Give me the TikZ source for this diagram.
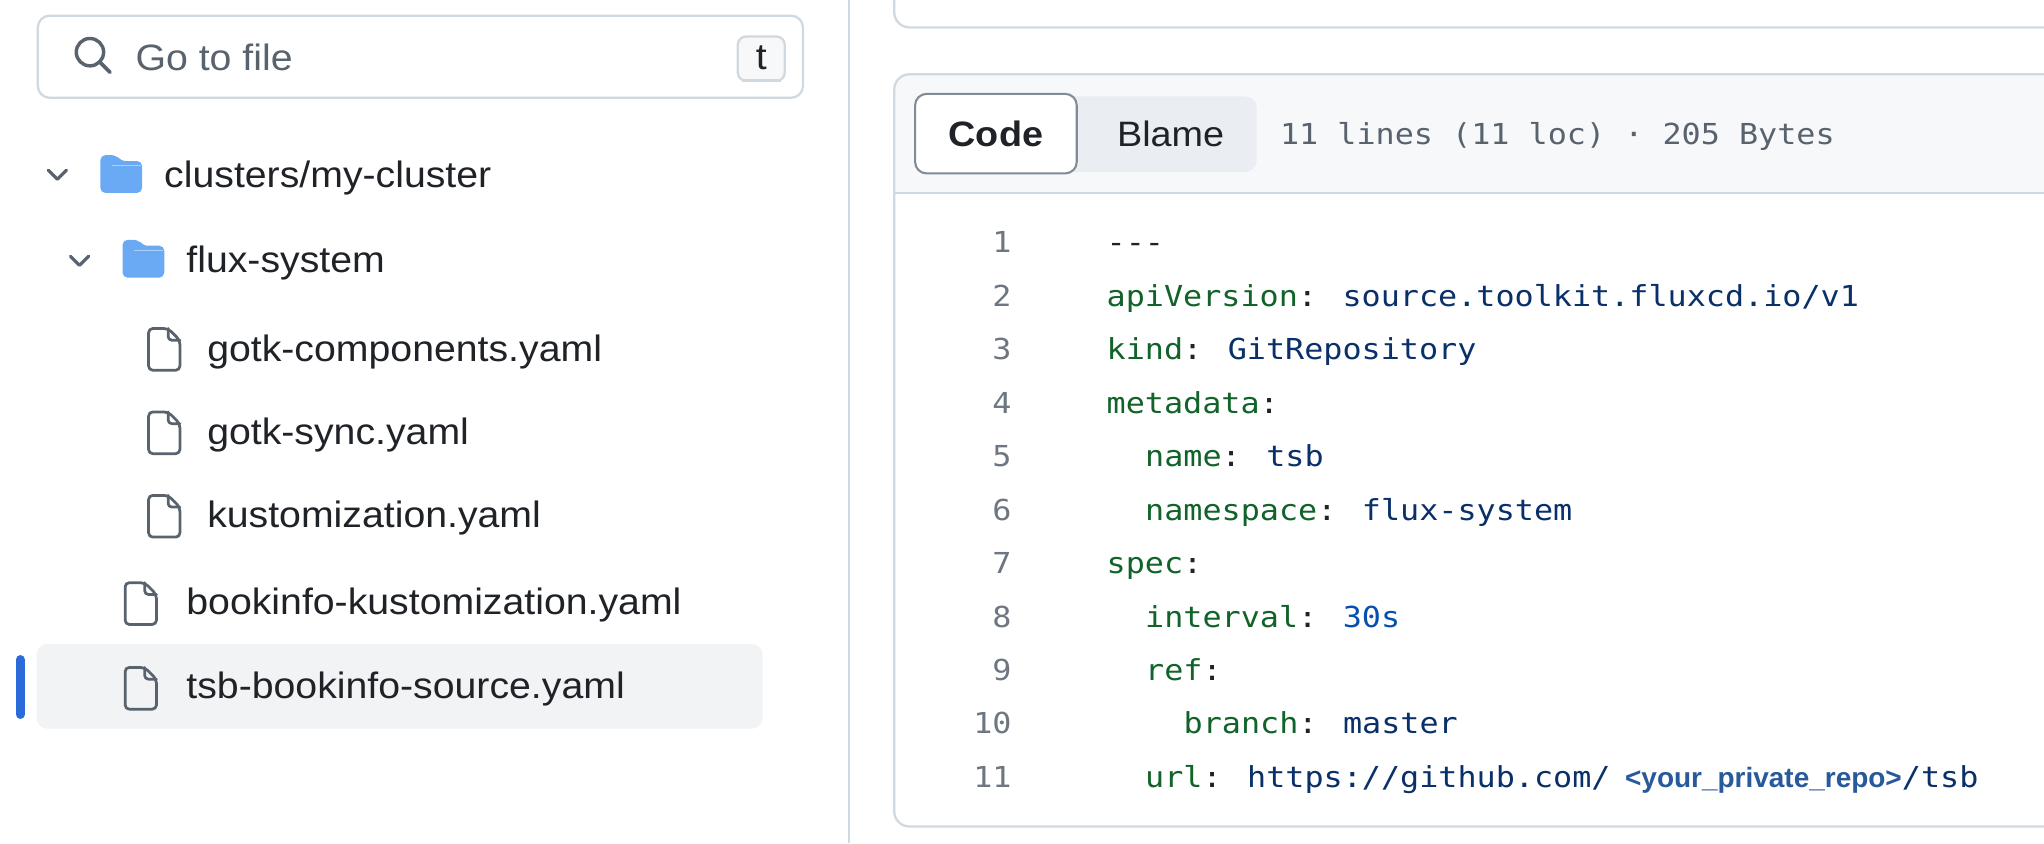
\documentclass[tikz,border=0pt]{standalone}
\usepackage{fontspec}
\setmainfont{Liberation Sans}
\newfontfamily\uifont{Liberation Sans}[FakeStretch=1.07]
\newfontfamily\codefont{DejaVu Sans Mono}[FakeStretch=1.1]
\definecolor{ink}{HTML}{1F2328}
\definecolor{muted}{HTML}{59636E}
\definecolor{lnumc}{HTML}{6E7781}
\definecolor{keyc}{HTML}{116329}
\definecolor{valc}{HTML}{0A3069}
\definecolor{numc}{HTML}{0550AE}
\definecolor{repoc}{HTML}{28599B}
\definecolor{borderc}{HTML}{D1D9E0}
\definecolor{hdrbg}{HTML}{F6F8FA}
\definecolor{blamebg}{HTML}{EAEEF2}
\definecolor{rowbg}{HTML}{F2F3F5}
\definecolor{indic}{HTML}{2A6BD9}
\definecolor{folderc}{HTML}{6AAAF5}
\definecolor{btnborder}{HTML}{818B98}
\newcommand\treefont{\uifont\fontsize{8}{9.6}\selectfont}
\newcommand\btnfont{\uifont\fontsize{7.7}{9}\selectfont}
\newcommand\monofont{\codefont\fontsize{6.3}{7.5}\selectfont}
\newcommand\repofont{\rmfamily\bfseries\fontsize{6.1}{7.5}\selectfont}
\newcommand\K[1]{\textcolor{keyc}{#1}\textcolor{ink}{:}}
\newcommand\V[1]{\textcolor{valc}{#1}}
\begin{document}
\begin{tikzpicture}[x=0.01cm,y=-0.01cm,
  lbl/.style={anchor=base west, inner sep=0pt, outer sep=0pt, text=ink, font=\treefont},
  codeln/.style={anchor=base west, inner sep=0pt, outer sep=0pt, text=ink, font=\monofont},
  lnum/.style={anchor=base east, inner sep=0pt, outer sep=0pt, text=lnumc, font=\monofont},
  iconline/.style={draw=muted, line width=0.6pt, line join=round, line cap=round},
  border/.style={draw=borderc, line width=0.5pt},
  chev/.pic={\draw[iconline, line width=0.7pt] (-7,-3.5) -- (0,3.5) -- (7,-3.5);},
  folder/.pic={
    \fill[folderc, rounded corners=1.1pt] (0,0) -- (12.5,0) -- (15.5,4.5) -- (32,4.5) -- (32,29) -- (0,29) -- cycle;
    \draw[white, opacity=0.45, line width=0.35pt] (9,8) -- (31,8);
  },
  filepic/.pic={
    \draw[iconline, rounded corners=0.9pt] (15,0) -- (0,0) -- (0,32) -- (24,32) -- (24,9) -- cycle;
    \draw[iconline, rounded corners=0.8pt] (15,0) -- (15,9) -- (24,9);
  }
]
\useasboundingbox (0,0) rectangle (1568,647);
\clip (0,0) rectangle (1568,647);
\fill[white] (0,0) rectangle (1568,647);

% ---------- left panel ----------
\draw[border, fill=white, rounded corners=2.6pt] (29,12) rectangle (616,75);
\draw[iconline, line width=0.75pt] (69,40) circle (10.5);
\draw[iconline, line width=0.8pt] (76.5,47.5) -- (84.5,55.5);
\node[lbl, text=muted] (search) at (104,54) {Go to file};
\draw[border, fill=hdrbg, rounded corners=1.8pt] (566,28) rectangle (602,62);
\draw[draw=borderc, line width=0.7pt] (569,61.5) -- (599,61.5);
\node[anchor=base, inner sep=0pt, text=ink, font=\treefont] (tkey) at (584,53) {t};

\pic at (44,134) {chev};
\pic at (77,119) {folder};
\node[lbl] (clusters) at (126,144) {clusters/my-cluster};

\pic at (61,200) {chev};
\pic at (94,184) {folder};
\node[lbl] (fluxsys) at (143,209) {flux-system};

\pic at (114,252) {filepic};
\node[lbl] (gotkc) at (159,277) {gotk-components.yaml};
\pic at (114,316) {filepic};
\node[lbl] (gotks) at (159,341) {gotk-sync.yaml};
\pic at (114,380) {filepic};
\node[lbl] (kust) at (159,405) {kustomization.yaml};
\pic at (96,447) {filepic};
\node[lbl] (bookk) at (143,471) {bookinfo-kustomization.yaml};

\fill[rowbg, rounded corners=2.4pt] (28,494) rectangle (585,559);
\draw[indic, line width=2pt, line cap=round] (15.5,506) -- (15.5,548);
\pic at (96,512) {filepic};
\node[lbl] (tsbsrc) at (143,536) {tsb-bookinfo-source.yaml};

% divider
\draw[draw=borderc, line width=0.45pt] (651,0) -- (651,647);

% ---------- right panel ----------
\draw[border, rounded corners=3.3pt] (686,-20) -- (686,21) -- (1620,21);

\fill[hdrbg, rounded corners=3.3pt] (686,57) rectangle (1620,148);
\fill[hdrbg] (686,110) rectangle (1620,148);
\draw[border, rounded corners=3.3pt] (1620,57) -- (686,57) -- (686,634) -- (1620,634);
\draw[border] (686,148) -- (1620,148);

\fill[blamebg, rounded corners=2.5pt] (702,74) rectangle (964,132);
\draw[draw=btnborder, fill=white, line width=0.45pt, rounded corners=2.5pt] (702,72) rectangle (826,133);
\node[anchor=base, inner sep=0pt, text=ink, font=\btnfont\bfseries] (codebtn) at (764,112) {Code};
\node[anchor=base, inner sep=0pt, text=ink, font=\btnfont] (blamebtn) at (898,112) {Blame};
\node[codeln, text=muted] (info) at (982,111) {11 lines (11 loc) · 205 Bytes};

\foreach \n in {1,...,11}{
  \node[lnum] (ln\n) at (776,{153+41*\n}) {\n};
}

\node[codeln] (c1) at (849,194) {-\kern0pt-\kern0pt-};
\node[codeln] (c2) at (849,235) {\K{apiVersion} \V{source.toolkit.fluxcd.io/v1}};
\node[codeln] (c3) at (849,276) {\K{kind} \V{GitRepository}};
\node[codeln] (c4) at (849,317) {\K{metadata}};
\node[codeln] (c5) at (878.5,358) {\K{name} \V{tsb}};
\node[codeln] (c6) at (878.5,399) {\K{namespace} \V{flux-system}};
\node[codeln] (c7) at (849,440) {\K{spec}};
\node[codeln] (c8) at (878.5,481) {\K{interval} \textcolor{numc}{30s}};
\node[codeln] (c9) at (878.5,522) {\K{ref}};
\node[codeln] (c10) at (908,563) {\K{branch} \V{master}};
\node[codeln] (c11) at (878.5,604) {\K{url} \V{https://github.com/}};
\node[anchor=base west, inner sep=0pt, text=repoc, font=\repofont] (repo) at (1246,604) {<your\_private\_repo>};
\node[codeln, text=valc] (tsbpath) at (1459,604) {/tsb};
\end{tikzpicture}
\end{document}
